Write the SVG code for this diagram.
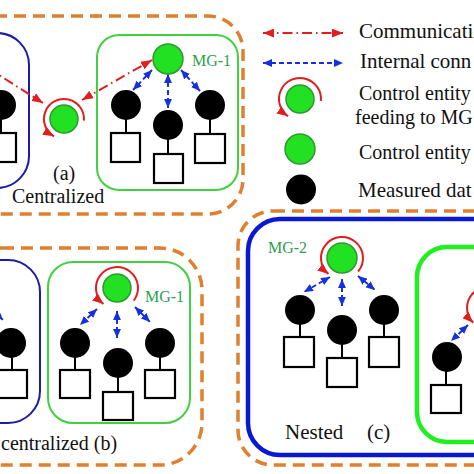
<svg xmlns="http://www.w3.org/2000/svg" width="474" height="474" viewBox="0 0 474 474">
<defs>
<style>
.org{fill:none;stroke:#e0802e;stroke-width:3.5;stroke-dasharray:12 7}
.blu{fill:none;stroke:#1c1ca8;stroke-width:2}
.blu2{fill:none;stroke:#0a18d2;stroke-width:4.5}
.grn{fill:none;stroke:#40d040;stroke-width:2}
.grn2{fill:none;stroke:#22ee22;stroke-width:4.5}
.ent{fill:#22e022;stroke:#2e9a2e;stroke-width:1.5}
.dat{fill:#000}
.box{fill:#fff;stroke:#000;stroke-width:2.2}
.stem{stroke:#000;stroke-width:2}
.red{fill:none;stroke:#e01e1e;stroke-width:2;stroke-dasharray:10 4 1.5 4;marker-start:url(#ra);marker-end:url(#ra)}
.loop{fill:none;stroke:#e01e1e;stroke-width:2;marker-end:url(#ra)}
.bl{fill:none;stroke:#1530e0;stroke-width:2;stroke-dasharray:5 3;marker-start:url(#ba);marker-end:url(#ba)}
.t{font-family:"Liberation Serif","Times New Roman",serif;font-size:21px;fill:#111}
.t20{font-family:"Liberation Serif","Times New Roman",serif;font-size:20px;fill:#111}
.mg{font-family:"Liberation Serif","Times New Roman",serif;font-size:16px;fill:#2e9e4e}
</style>
<marker id="ra" viewBox="0 0 10 8" refX="10" refY="4" markerWidth="11" markerHeight="9" markerUnits="userSpaceOnUse" orient="auto-start-reverse"><path d="M0,0 L10,4 L0,8 z" fill="#e01e1e"/></marker>
<marker id="ba" viewBox="0 0 8 7" refX="8" refY="3.5" markerWidth="9" markerHeight="8" markerUnits="userSpaceOnUse" orient="auto-start-reverse"><path d="M0,0 L8,3.5 L0,7 z" fill="#1530e0"/></marker>
</defs>
<rect width="474" height="474" fill="#fff"/>

<g id="panel-a">
<rect class="org" x="-40" y="16" width="283" height="198" rx="35"/>
<rect class="blu" x="-80" y="33" width="109" height="155" rx="32"/>
<rect class="grn" x="97" y="35" width="141" height="155" rx="22"/>
<text class="t20" x="53" y="180">(a)</text>
<text class="t20" x="12" y="203">Centralized</text>
</g>
<g id="panel-b">
<rect class="org" x="-40" y="248" width="242" height="217" rx="42"/>
<rect class="blu" x="-80" y="260" width="120" height="163" rx="32"/>
<rect class="grn" x="48" y="262" width="142" height="161" rx="25"/>
<text class="t20" x="1" y="450">centralized (b)</text>
</g>
<g id="panel-c">
<rect class="org" x="238" y="211" width="300" height="254" rx="35"/>
<rect class="blu2" x="248" y="219" width="290" height="236" rx="32"/>
<rect class="grn2" x="417" y="247" width="120" height="195" rx="30"/>
<text class="t" x="285" y="439">Nested</text>
<text class="t" x="367" y="439">(c)</text>
</g>

<g id="connectors">
<line class="red" x1="-12" y1="68" x2="43" y2="103"/>
<line class="red" x1="82" y1="100" x2="152" y2="60"/>
<path class="loop" d="M83.9,120.7 A20,20 0 1 0 54,136.3"/>
<line class="bl" x1="152" y1="70" x2="133" y2="90"/>
<line class="bl" x1="168" y1="74" x2="168" y2="108"/>
<line class="bl" x1="181" y1="70" x2="200" y2="91"/>
<path class="loop" d="M133.8,300.6 A21,21 0 1 0 103.5,304.1"/>
<line class="bl" x1="-12" y1="305" x2="3" y2="320"/>
<line class="bl" x1="97" y1="309" x2="80" y2="325"/>
<line class="bl" x1="117" y1="311" x2="117" y2="338"/>
<line class="bl" x1="135" y1="307" x2="150" y2="322"/>
<path class="loop" d="M358.1,271.5 A21,21 0 1 0 328.5,274.1"/>
<line class="bl" x1="330" y1="277" x2="304" y2="292"/>
<line class="bl" x1="342" y1="279" x2="342" y2="306"/>
<line class="bl" x1="358" y1="276" x2="375" y2="290"/>
<path class="loop" d="M506.2,318.5 A21,21 0 1 0 473.2,322.8"/>
<line class="bl" x1="468" y1="325" x2="451" y2="341"/>
</g>

<g id="a-left-data"><line class="stem" x1="1" y1="118" x2="1" y2="133"/><circle class="dat" cx="1" cy="105" r="15"/><rect class="box" x="-14" y="133" width="30" height="29"/></g>
<g id="a-central"><circle class="ent" cx="64" cy="119" r="14"/></g>
<g id="a-mg1"><circle class="ent" cx="168" cy="59" r="15"/><text class="mg" x="192" y="66">MG-1</text></g>
<g id="a-d1"><line class="stem" x1="126" y1="118" x2="126" y2="133"/><circle class="dat" cx="126" cy="105" r="15"/><rect class="box" x="111" y="133" width="29" height="29"/></g>
<g id="a-d2"><line class="stem" x1="168" y1="138" x2="168" y2="154"/><circle class="dat" cx="168" cy="125" r="15"/><rect class="box" x="154" y="154" width="29" height="29"/></g>
<g id="a-d3"><line class="stem" x1="210" y1="118" x2="210" y2="134"/><circle class="dat" cx="210" cy="105" r="15"/><rect class="box" x="195" y="134" width="30" height="29"/></g>

<g id="b-left-data"><line class="stem" x1="12" y1="356" x2="12" y2="370"/><circle class="dat" cx="11" cy="343" r="15"/><rect class="box" x="-3" y="370" width="30" height="28"/></g>
<g id="b-mg1"><circle class="ent" cx="117" cy="288" r="14"/><text class="mg" x="145" y="302">MG-1</text></g>
<g id="b-d1"><line class="stem" x1="75" y1="356" x2="75" y2="370"/><circle class="dat" cx="75" cy="343" r="15"/><rect class="box" x="60" y="370" width="30" height="28"/></g>
<g id="b-d2"><line class="stem" x1="118" y1="376" x2="118" y2="392"/><circle class="dat" cx="118" cy="363" r="15"/><rect class="box" x="103" y="392" width="30" height="28"/></g>
<g id="b-d3"><line class="stem" x1="160" y1="356" x2="160" y2="370"/><circle class="dat" cx="160" cy="343" r="15"/><rect class="box" x="145" y="370" width="30" height="28"/></g>

<g id="c-mg2"><circle class="ent" cx="342" cy="258" r="15"/><text class="mg" x="268" y="253">MG-2</text></g>
<g id="c-d1"><line class="stem" x1="300" y1="323" x2="300" y2="337"/><circle class="dat" cx="300" cy="310" r="15"/><rect class="box" x="284" y="337" width="30" height="30"/></g>
<g id="c-d2"><line class="stem" x1="342" y1="343" x2="342" y2="358"/><circle class="dat" cx="342" cy="330" r="15"/><rect class="box" x="327" y="358" width="30" height="29"/></g>
<g id="c-d3"><line class="stem" x1="384" y1="323" x2="384" y2="337"/><circle class="dat" cx="384" cy="310" r="15"/><rect class="box" x="369" y="337" width="30" height="30"/></g>
<g id="c-inner-d1"><line class="stem" x1="446" y1="370" x2="446" y2="385"/><circle class="dat" cx="447" cy="357" r="15"/><rect class="box" x="431" y="385" width="30" height="28"/></g>

<g id="legend">
<line class="red" x1="263" y1="33" x2="343" y2="33"/>
<text class="t" x="359" y="38">Communicati</text>
<line class="bl" x1="263" y1="63" x2="343" y2="63"/>
<text class="t" x="360" y="68">Internal conn</text>
<circle class="ent" cx="300" cy="99" r="14"/>
<path class="loop" d="M320.9,100.8 A21,21 0 1 0 288,116.2"/>
<text class="t20" x="359" y="100">Control entity</text>
<text class="t20" x="355" y="124">feeding to MG</text>
<circle class="ent" cx="300" cy="149" r="15"/>
<text class="t20" x="359" y="159">Control entity</text>
<circle class="dat" cx="301" cy="189.5" r="15"/>
<text class="t" x="358" y="197">Measured dat</text>
</g>
</svg>
